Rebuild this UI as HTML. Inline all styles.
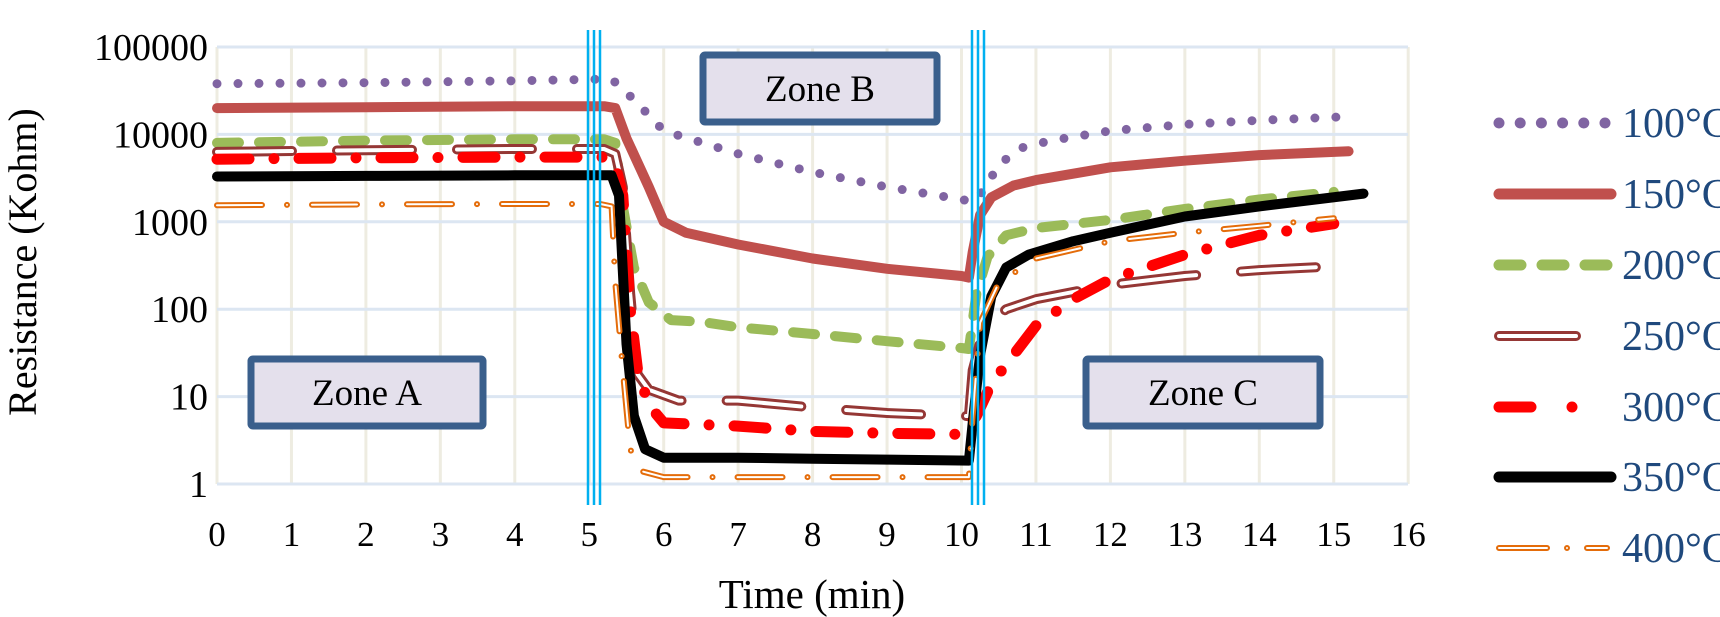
<!DOCTYPE html>
<html><head><meta charset="utf-8">
<style>
html,body{margin:0;padding:0;background:#fff;}
svg{display:block;}
text{font-family:"Liberation Serif",serif;}
</style></head>
<body>
<svg id="s" width="1720" height="617" viewBox="0 0 1720 617" xmlns="http://www.w3.org/2000/svg">
<rect width="1720" height="617" fill="#fff"/>
<g id="grid"></g>
<g id="series"></g>
<g stroke="#00b0f0" stroke-width="2.5">
<line x1="588" y1="30" x2="588" y2="505"/><line x1="594" y1="30" x2="594" y2="505"/><line x1="600" y1="30" x2="600" y2="505"/>
<line x1="972" y1="30" x2="972" y2="505"/><line x1="978" y1="30" x2="978" y2="505"/><line x1="984" y1="30" x2="984" y2="505"/>
</g>
<g>
<rect x="251" y="359" width="232" height="67" fill="#e4e0ec" stroke="#3a5f8c" stroke-width="7" rx="2"/>
<text x="367" y="405" font-size="37" text-anchor="middle">Zone A</text>
<rect x="703" y="55" width="234" height="67" fill="#e4e0ec" stroke="#3a5f8c" stroke-width="7" rx="2"/>
<text x="820" y="101" font-size="37" text-anchor="middle">Zone B</text>
<rect x="1086" y="359" width="234" height="67" fill="#e4e0ec" stroke="#3a5f8c" stroke-width="7" rx="2"/>
<text x="1203" y="405" font-size="37" text-anchor="middle">Zone C</text>
</g>
<g id="labels" font-size="35" fill="#000"></g>
<text x="812" y="608" font-size="41" text-anchor="middle">Time (min)</text>
<text transform="translate(36,262) rotate(-90)" font-size="40" text-anchor="middle">Resistance (Kohm)</text>
<g id="legend"></g>
</svg>
<script>
var NS="http://www.w3.org/2000/svg";
function X(t){return 217+74.45*t;}
function Y(v){return 484-87.4*Math.log10(v);}
function el(p,tag,a,txt){var e=document.createElementNS(NS,tag);for(var k in a)e.setAttribute(k,a[k]);if(txt!==undefined)e.textContent=txt;p.appendChild(e);return e;}
var g=document.getElementById('grid');
for(var i=1;i<=16;i++){el(g,'line',{x1:X(i),y1:47,x2:X(i),y2:484,stroke:'#eeece1','stroke-width':3});}
el(g,'line',{x1:217,y1:47,x2:217,y2:484,stroke:'#eeece1','stroke-width':3});
for(var d=0;d<=5;d++){el(g,'line',{x1:217,y1:484-87.4*d,x2:1408,y2:484-87.4*d,stroke:'#dce6f2','stroke-width':3});}
var L=document.getElementById('labels');
var yl=['1','10','100','1000','10000','100000'];
for(var d=0;d<=5;d++){el(L,'text',{x:208,y:484-87.4*d+13,'text-anchor':'end','font-size':38},yl[d]);}
for(var i=0;i<=16;i++){el(L,'text',{x:X(i),y:546,'text-anchor':'middle','font-size':35},String(i));}
var data={
 '100':[[0,38000],[2,39000],[4,41000],[5.3,43000],[5.6,25000],[6,11000],[7,6000],[8,3700],[9,2500],[10,1800],[10.15,1700],[10.3,2300],[10.5,4500],[10.8,7000],[11.2,8500],[12,11000],[13,13000],[14,14500],[15.2,16000]],
 '150':[[0,20000],[2,20500],[4,21000],[5.2,21000],[5.35,20000],[5.5,9000],[5.8,2500],[6,1000],[6.3,750],[7,550],[8,380],[9,290],[10,240],[10.1,230],[10.15,450],[10.25,1200],[10.4,1900],[10.7,2600],[11,3000],[12,4200],[13,5000],[14,5800],[15.2,6400]],
 '200':[[0,8000],[2,8500],[4,8800],[5.2,8800],[5.35,8000],[5.45,1500],[5.6,300],[5.8,120],[6.1,75],[6.5,72],[7,62],[8,52],[9,43],[10,36],[10.1,35],[10.2,150],[10.35,400],[10.6,700],[11,850],[12,1050],[13,1400],[14,1800],[15,2200]],
 '250':[[0,6300],[2,6600],[4,6800],[5.2,6800],[5.35,6000],[5.45,2500],[5.55,150],[5.65,18],[5.8,12],[6.2,9],[7,9],[8,7.5],[9,6.5],[10,6],[10.1,6],[10.15,20],[10.3,60],[10.6,100],[11,130],[12,190],[13,240],[14,280],[15,310]],
 '300':[[0,5200],[2,5400],[4,5500],[5.2,5500],[5.35,4500],[5.45,2000],[5.55,100],[5.65,20],[5.8,8],[6,5],[7,4.6],[8,4],[9,3.8],[10,3.7],[10.2,6],[10.4,14],[10.7,30],[11,65],[11.5,130],[12,220],[13,420],[14,700],[15,950]],
 '350':[[0,3300],[2,3350],[4,3400],[5.3,3400],[5.4,2000],[5.5,40],[5.6,6],[5.75,2.5],[6,2],[7,2],[8,1.95],[9,1.9],[10.1,1.85],[10.15,5],[10.25,30],[10.4,140],[10.6,300],[10.9,420],[11.5,600],[12,750],[13,1150],[14,1500],[15.4,2100]],
 '400':[[0,1550],[2,1580],[4,1600],[5.15,1600],[5.3,1500],[5.35,200],[5.45,20],[5.55,2.5],[5.7,1.4],[6,1.2],[8,1.2],[10.1,1.2],[10.15,6],[10.25,70],[10.5,200],[11,380],[12,600],[13,750],[14,900],[15,1100]]
};
var styles={
 '100':[{stroke:'#8064a2',w:9,dash:'0 21'}],
 '150':[{stroke:'#c0504d',w:10}],
 '200':[{stroke:'#9bbb59',w:10,dash:'22 20'}],
 '250':[{stroke:'#953735',w:10,dash:'75 45'},{stroke:'#ffffff',w:4,dash:'75 45'}],
 '300':[{stroke:'#ff0000',w:11,dash:'32 25 0 25'}],
 '350':[{stroke:'#000000',w:10}],
 '400':[{stroke:'#e46c0a',w:6,dash:'45 25 0 25'},{stroke:'#ffffff',w:2,dash:'45 25 0 25'}]
};
var S=document.getElementById('series');
var order=['100','150','200','250','300','350','400'];
order.forEach(function(k){
  var pts=data[k].map(function(p){return X(p[0]).toFixed(1)+','+Y(p[1]).toFixed(1);}).join(' ');
  styles[k].forEach(function(st){
    var a={points:pts,fill:'none',stroke:st.stroke,'stroke-width':st.w,'stroke-linecap':'round','stroke-linejoin':'round'};
    if(st.dash)a['stroke-dasharray']=st.dash;
    el(S,'polyline',a);
  });
});
var G=document.getElementById('legend');
var ly=[123,194,265,336,407,477,548];
order.forEach(function(k,i){
  var y=ly[i];
  var ls={
   '100':[{s:'#8064a2',w:11,d:'0 21.2'}],
   '150':[{s:'#c0504d',w:11}],
   '200':[{s:'#9bbb59',w:11,d:'22 21'}],
   '250':[{s:'#953735',w:10,x2:1576},{s:'#fff',w:4,x2:1576}],
   '300':[{s:'#ff0000',w:11,d:'32 41 0 50'}],
   '350':[{s:'#000',w:11}],
   '400':[{s:'#e46c0a',w:6,d:'48 20 0 20 20 60'},{s:'#fff',w:2,d:'48 20 0 20 20 60'}]
  }[k];
  ls.forEach(function(st){
    var a={x1:1499,y1:y,x2:st.x2||1611,y2:y,stroke:st.s,'stroke-width':st.w,'stroke-linecap':'round'};
    if(st.d)a['stroke-dasharray']=st.d;
    el(G,'line',a);
  });
  el(G,'text',{x:1622,y:y+14,'font-size':42,fill:'#1f497d'},k+'°C');
});
</script>
</body></html>
